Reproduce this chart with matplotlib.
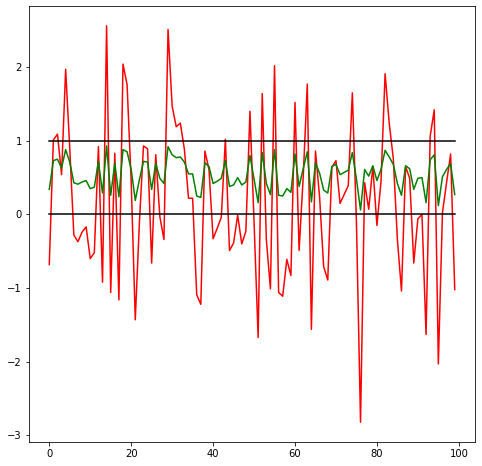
import matplotlib
matplotlib.use("Agg")
import matplotlib.pyplot as plt

x_index = list(range(100))
red_values = [
    -0.68, 1.01, 1.09, 0.54, 1.97, 0.90, -0.28, -0.37, -0.24, -0.17,
    -0.60, -0.52, 0.92, -0.92, 2.56, -1.06, 0.83, -1.16, 2.04, 1.76,
    0.45, -1.43, -0.12, 0.93, 0.89, -0.66, 0.81, -0.03, -0.34, 2.51,
    1.47, 1.19, 1.24, 0.88, 0.22, 0.22, -1.09, -1.22, 0.86, 0.61,
    -0.33, -0.19, -0.04, 1.02, -0.49, -0.39, -0.01, -0.40, -0.23, 1.40,
    -0.10, -1.67, 1.64, -0.34, -1.01, 2.02, -1.06, -1.11, -0.61, -0.83,
    1.52, -0.49, 0.50, 1.77, -1.56, 0.86, 0.24, -0.71, -0.89, 0.64,
    0.73, 0.15, 0.27, 0.39, 1.65, -0.10, -2.82, 0.43, 0.07, 0.65,
    -0.15, 0.45, 1.91, 1.24, 0.76, -0.34, -1.04, 0.65, 0.49, -0.66,
    -0.06, 0.00, -1.63, 1.06, 1.42, -2.03, 0.02, 0.43, 0.82, -1.02,
]
green_values = [
    0.34, 0.73, 0.75, 0.63, 0.88, 0.71, 0.43, 0.41, 0.44, 0.46,
    0.35, 0.37, 0.72, 0.29, 0.93, 0.26, 0.70, 0.24, 0.88, 0.85,
    0.61, 0.19, 0.47, 0.72, 0.71, 0.34, 0.69, 0.49, 0.42, 0.92,
    0.81, 0.77, 0.78, 0.71, 0.55, 0.55, 0.25, 0.23, 0.70, 0.65,
    0.42, 0.45, 0.49, 0.73, 0.38, 0.40, 0.50, 0.40, 0.44, 0.80,
    0.48, 0.16, 0.84, 0.42, 0.27, 0.88, 0.26, 0.25, 0.35, 0.30,
    0.82, 0.38, 0.62, 0.85, 0.17, 0.70, 0.56, 0.33, 0.29, 0.65,
    0.68, 0.54, 0.57, 0.60, 0.84, 0.48, 0.06, 0.61, 0.52, 0.66,
    0.46, 0.61, 0.87, 0.78, 0.68, 0.42, 0.26, 0.66, 0.62, 0.34,
    0.49, 0.50, 0.16, 0.74, 0.81, 0.12, 0.51, 0.61, 0.69, 0.27,
]
ref_levels = [0, 1]

fig = plt.figure(figsize=(482 / 72, 466 / 72), dpi=72)
ax = fig.add_axes([29 / 482, 24 / 466, 446 / 482, 436 / 466])
ax.plot(x_index, red_values, color="red", lw=1.5)
ax.plot(x_index, green_values, color="green", lw=1.5)
for lvl in ref_levels:
    ax.plot([x_index[0], x_index[-1]], [lvl, lvl], color="black", lw=1.5)
ax.tick_params(labelsize=10)
fig.savefig("out.png", dpi=72)
